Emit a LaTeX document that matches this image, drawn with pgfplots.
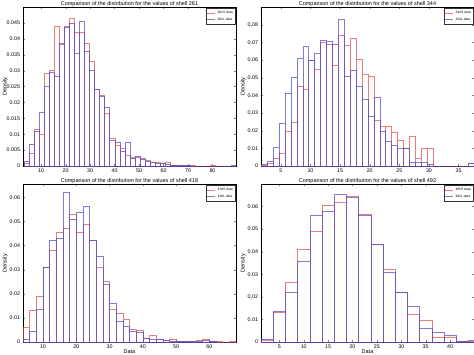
\documentclass[border=0pt]{standalone}
\usepackage{fontspec}
\setmainfont{Liberation Sans}
\usepackage{pgfplots}
\pgfplotsset{compat=1.18}
\usepackage{pgfplotstable}

\definecolor{hred}{RGB}{225,70,70}
\definecolor{hblue}{RGB}{70,70,205}

% ---------- shell 261 ----------
\pgfplotstableread{
x y
3.00 0.0008
5.06 0.0039
7.12 0.0115
9.18 0.0100
11.24 0.0293
13.30 0.0300
15.36 0.0440
17.42 0.0383
19.48 0.0438
21.54 0.0465
23.60 0.0420
25.66 0.0420
27.72 0.0387
29.78 0.0330
31.84 0.0240
33.90 0.0222
35.96 0.0165
38.02 0.0086
40.08 0.0065
42.14 0.0055
44.20 0.0035
46.26 0.0028
48.32 0.0027
50.38 0.0025
52.44 0.0018
54.50 0.0013
56.56 0.0012
58.62 0.0010
60.68 0.0013
62.74 0.0002
64.80 0.0003
66.86 0.0001
68.92 0.0003
70.98 0.0002
73.04 0.0
75.10 0.0
77.16 0.0
79.22 0.0002
81.28 0.0
83.34 0.0
85.40 0.0
87.46 0.0
89.52 0
}\redA
\pgfplotstableread{
x y
3.00 0.0016
5.06 0.0067
7.12 0.0110
9.18 0.0168
11.24 0.0250
13.30 0.0296
15.36 0.0283
17.42 0.0385
19.48 0.0435
21.54 0.0450
23.60 0.0355
25.66 0.0455
27.72 0.0362
29.78 0.0300
31.84 0.0242
33.90 0.0220
35.96 0.0185
38.02 0.0080
40.08 0.0076
42.14 0.0045
44.20 0.0076
46.26 0.0025
48.32 0.0030
50.38 0.0022
52.44 0.0015
54.50 0.0012
56.56 0.0010
58.62 0.0008
60.68 0.0005
62.74 0.0003
64.80 0.0003
66.86 0.0002
68.92 0.0001
70.98 0.0
73.04 0.0
75.10 0.0
77.16 0.0
79.22 0.0
81.28 0.0
83.34 0.0
85.40 0.0
87.46 0.0003
89.52 0
}\blueA

% ---------- shell 344 ----------
\pgfplotstableread{
x y
1.7 0.0005
2.7 0.0015
3.7 0.0045
4.7 0.0075
5.7 0.0195
6.7 0.0250
7.7 0.0450
8.7 0.0435
9.7 0.0600
10.7 0.0550
11.7 0.0700
12.7 0.0690
13.7 0.0570
14.7 0.0740
15.7 0.0685
16.7 0.0725
17.7 0.0605
18.7 0.0520
19.7 0.0510
20.7 0.0260
21.7 0.0225
22.7 0.0225
23.7 0.0190
24.7 0.0145
25.7 0.0100
26.7 0.0170
27.7 0.0045
28.7 0.0100
29.7 0.0100
30.7 0.0
31.7 0.0
32.7 0.0
33.7 0.0
34.7 0.0
35.7 0.0
36.7 0.0015
37.7 0
}\redB
\pgfplotstableread{
x y
1.7 0.0010
2.7 0.0025
3.7 0.0105
4.7 0.0240
5.7 0.0410
6.7 0.0500
7.7 0.0610
8.7 0.0680
9.7 0.0600
10.7 0.0640
11.7 0.0710
12.7 0.0705
13.7 0.0690
14.7 0.0830
15.7 0.0510
16.7 0.0540
17.7 0.0450
18.7 0.0380
19.7 0.0280
20.7 0.0390
21.7 0.0195
22.7 0.0140
23.7 0.0120
24.7 0.0100
25.7 0.0100
26.7 0.0020
27.7 0.0020
28.7 0.0020
29.7 0.0010
30.7 0.0
31.7 0.0
32.7 0.0
33.7 0.0
34.7 0.0
35.7 0.0
36.7 0.0015
37.7 0
}\blueB

% ---------- shell 418 ----------
\pgfplotstableread{
x y
4 0.0062
6 0.0130
8 0.0190
10 0.0310
12 0.0380
14 0.0455
16 0.0470
18 0.0530
20 0.0455
22 0.0490
24 0.0420
26 0.0310
28 0.0250
30 0.0135
32 0.0120
34 0.0095
36 0.0055
38 0.0050
40 0.0015
42 0.0028
44 0.0010
46 0.0008
48 0.0012
50 0.0003
52 0.0003
54 0.0004
56 0.0006
58 0.0010
60 0.0004
62 0.0002
64 0.0
66 0.0004
68 0
}\redC
\pgfplotstableread{
x y
4 0.0010
6 0.0043
8 0.0135
10 0.0310
12 0.0420
14 0.0430
16 0.0620
18 0.0510
20 0.0537
22 0.0562
24 0.0420
26 0.0355
28 0.0240
30 0.0160
32 0.0085
34 0.0065
36 0.0045
38 0.0040
40 0.0015
42 0.0010
44 0.0010
46 0.0008
48 0.0004
50 0.0003
52 0.0002
54 0.0003
56 0.0004
58 0.0006
60 0.0004
62 0.0
64 0.0
66 0.0
68 0
}\blueC

% ---------- shell 492 ----------
\pgfplotstableread{
x y
1.25 0.0010
3.75 0.0130
6.25 0.0265
8.75 0.0412
11.25 0.0490
13.75 0.0605
16.25 0.0620
18.75 0.0648
21.25 0.0568
23.75 0.0433
26.25 0.0323
28.75 0.0220
31.25 0.0125
33.75 0.0095
36.25 0.0022
38.75 0.0020
41.25 0.0005
43.75 0.0004
46.25 0
}\redD
\pgfplotstableread{
x y
1.25 0.0013
3.75 0.0135
6.25 0.0220
8.75 0.0360
11.25 0.0560
13.75 0.0580
16.25 0.0655
18.75 0.0640
21.25 0.0562
23.75 0.0433
26.25 0.0310
28.75 0.0220
31.25 0.0160
33.75 0.0060
36.25 0.0042
38.75 0.0028
41.25 0.0005
43.75 0.0006
46.25 0
}\blueD

\pgfplotsset{
  hist/.style={
    scale only axis, width=213pt,
    ymin=0,
    tick label style={font=\fontsize{5.3}{6}\selectfont},
    /pgf/number format/assume math mode=true,
    scaled y ticks=false,
    yticklabel style={/pgf/number format/fixed,/pgf/number format/precision=3, xshift=0.5pt},
    xticklabel style={yshift=0.5pt},
    xtick pos=both, ytick pos=both,
    tick align=inside,
    major tick length=2pt,
    axis line style={line width=0.4pt},
    every axis title shift=0pt,
    title style={font=\fontsize{5.5}{6}\selectfont, at={(0.5,1)}, anchor=south, inner sep=0.6pt},
    ylabel={Density},
    every axis y label/.style={at={(axis description cs:0,0.5)}, xshift=-15pt, rotate=90, anchor=south, font=\fontsize{5.5}{6}\selectfont, inner sep=0pt},
    every axis x label/.style={at={(axis description cs:0.5,0)}, anchor=north, yshift=-8pt, font=\fontsize{5.5}{6}\selectfont, inner sep=0pt},
    legend style={font=\fontsize{3.3}{3.6}\selectfont, at={(0.997,0.992)}, anchor=north east,
      inner sep=0.6pt, row sep=-1.2pt, draw=black!80, line width=0.3pt},
    legend cell align=left,
    legend image code/.code={\draw[##1, line width=0.5pt] (0pt,0pt) -- (8pt,0pt);},
  },
  rbar/.style={ybar interval, draw=hred, fill=none, line width=0.45pt, draw opacity=0.7},
  bbar/.style={ybar interval, draw=hblue, fill=none, line width=0.45pt, draw opacity=0.7},
}

\begin{document}
\begin{tikzpicture}
\path[use as bounding box] (0,0) rectangle (474pt,354pt);

% top left
\begin{axis}[hist, at={(23pt,188pt)}, anchor=south west, height=159pt,
  xmin=2.6, xmax=89.6, ymax=0.05,
  xtick={10,20,30,40,50,60,70,80},
  ytick={0,0.005,0.01,0.015,0.02,0.025,0.03,0.035,0.04,0.045},
  title={Comparison of the distribution for the values of shell 261}]
\addplot[rbar] table {\redA};
\addplot[bbar] table {\blueA};
\legend{261S data, 261L data}
\end{axis}

% top right
\begin{axis}[hist, at={(261pt,188pt)}, anchor=south west, height=159pt,
  xmin=1.65, xmax=37.6, ymax=0.09,
  xtick={5,10,15,20,25,30,35},
  ytick={0,0.01,0.02,0.03,0.04,0.05,0.06,0.07,0.08},
  title={Comparison of the distribution for the values of shell 344}]
\addplot[rbar] table {\redB};
\addplot[bbar] table {\blueB};
\legend{344S data, 344L data}
\end{axis}

% bottom left
\begin{axis}[hist, at={(23pt,12pt)}, anchor=south west, height=158pt,
  xmin=4, xmax=68, ymax=0.0655,
  xtick={10,20,30,40,50,60},
  ytick={0,0.01,0.02,0.03,0.04,0.05,0.06},
  xlabel={Data},
  title={Comparison of the distribution for the values of shell 418}]
\addplot[rbar] table {\redC};
\addplot[bbar] table {\blueC};
\legend{418S data, 418L data}
\end{axis}

% bottom right
\begin{axis}[hist, at={(261pt,12pt)}, anchor=south west, height=158pt,
  xmin=1.25, xmax=44.9, ymax=0.07,
  xtick={5,10,15,20,25,30,35,40},
  ytick={0,0.01,0.02,0.03,0.04,0.05,0.06},
  xlabel={Data},
  title={Comparison of the distribution for the values of shell 492}]
\addplot[rbar] table {\redD};
\addplot[bbar] table {\blueD};
\legend{492S data, 492L data}
\end{axis}
\end{tikzpicture}
\end{document}
